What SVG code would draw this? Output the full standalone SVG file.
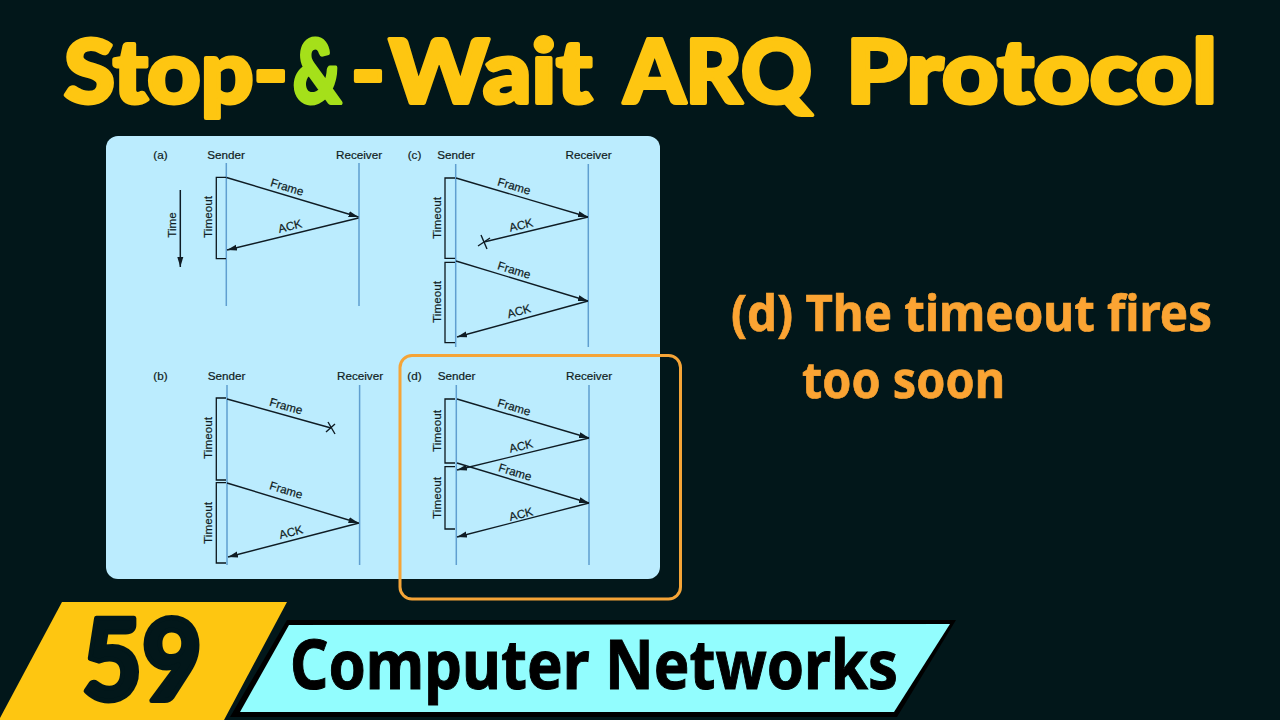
<svg xmlns="http://www.w3.org/2000/svg" width="1280" height="720" viewBox="0 0 1280 720">
<style>
.t{font-family:"Liberation Sans",Arial,sans-serif;font-size:11.700px;fill:#101c22;stroke:#101c22;stroke-width:.2;text-anchor:middle}
.life{stroke:#5f9fd0;stroke-width:1.500;fill:none}
.br{stroke:#0c171d;stroke-width:1.300;fill:none}
.ar{stroke:#0f1c24;stroke-width:1.400;fill:none;marker-end:url(#h)}
.ln{stroke:#0f1c24;stroke-width:1.400;fill:none}
.h{font-family:"Noto Sans","Open Sans",sans-serif;font-weight:700;font-size:50px;fill:#fba433;stroke:#fba433;stroke-width:.7}
.title{font-family:Lato,"Noto Sans",sans-serif;font-weight:900;font-size:88px;fill:#fec611;stroke:#fec611;stroke-width:4;stroke-linejoin:round}
</style>
<defs>
<marker id="h" markerUnits="userSpaceOnUse" markerWidth="12" markerHeight="8" refX="10" refY="4" orient="auto"><path d="M0 1 L10 4 L0 7 Z" fill="#0f1c24"/></marker>
</defs>
<rect width="1280" height="720" fill="#02171a"/>
<g id="title">
<text class="title" x="64" y="103" textLength="224" lengthAdjust="spacingAndGlyphs">Stop-</text>
<text class="title" transform="translate(293 103) scale(.75 1)" style="fill:#a5e01a;stroke:#a5e01a">&amp;</text>
<text class="title" x="351" y="103" textLength="34" lengthAdjust="spacingAndGlyphs">-</text>
<text class="title" x="389" y="103" textLength="203" lengthAdjust="spacingAndGlyphs">Wait</text>
<text class="title" x="624" y="103" textLength="188" lengthAdjust="spacingAndGlyphs">ARQ</text>
<text class="title" x="846" y="103" textLength="371" lengthAdjust="spacingAndGlyphs">Protocol</text>
</g>
<g id="panel"><rect x="106" y="136" width="554" height="443" rx="12" fill="#bbecfe"/></g>
<g id="lifelines">
<path class="life" d="M226.300 163V306M359 163V306M455.700 164V347M588.300 164V347M456.300 385V565M589 385V565M227 385V565M359.600 385V565"/>
</g>
<g id="connectors">
<path class="br" d="M226 177.300H216.300V258.700H226M226 398H216.300V480H226M226 482.700H216.300V563H226M455 178H445V258.300H455M455 262.300H445V342.700H455M455 399H445V463H455M455 466.700H445V529H455"/>
<path class="ar" d="M226.500 177.500L358.500 217"/>
<path class="ar" d="M358.500 218L227 250"/>
<path class="ar" style="stroke-width:1.500" d="M180.300 190V267"/>
<path class="ln" d="M227 399L331 428"/>
<path class="ar" d="M227 483L358.500 523"/>
<path class="ar" d="M359 523L228 557"/>
<path class="ar" d="M456 178L588 217"/>
<path class="ln" d="M588 217L484 242"/>
<path class="ar" d="M456 261L588 301"/>
<path class="ar" d="M588 301L457 337"/>
<path class="ar" d="M457 399L589 438"/>
<path class="ar" d="M589 438L457 470"/>
<path class="ar" d="M457 463L589 503"/>
<path class="ar" d="M589 503L457 537"/>
<path class="ln" d="M326 432L335 424M328 422L335 434M478 246L490 238M481 235L487 249"/>
</g>
<g id="diagram-a">
<text class="t" x="160.500" y="159">(a)</text><text class="t" x="226" y="159">Sender</text><text class="t" x="359" y="159">Receiver</text>
<text class="t" transform="translate(176 225) rotate(-90)">Time</text>
<text class="t" transform="translate(212 217) rotate(-90)">Timeout</text>
<text class="t" transform="translate(286 191) rotate(16.800)">Frame</text>
<text class="t" transform="translate(291 230) rotate(-14)">ACK</text>
</g>
<g id="diagram-b">
<text class="t" x="160.500" y="380">(b)</text><text class="t" x="226.500" y="380">Sender</text><text class="t" x="360" y="380">Receiver</text>
<text class="t" transform="translate(212 438) rotate(-90)">Timeout</text>
<text class="t" transform="translate(212 523) rotate(-90)">Timeout</text>
<text class="t" transform="translate(285 410) rotate(15.600)">Frame</text>
<text class="t" transform="translate(285 494) rotate(16.800)">Frame</text>
<text class="t" transform="translate(292 536) rotate(-14.500)">ACK</text>
</g>
<g id="diagram-c">
<text class="t" x="414.500" y="159">(c)</text><text class="t" x="456" y="159">Sender</text><text class="t" x="588.500" y="159">Receiver</text>
<text class="t" transform="translate(441 218) rotate(-90)">Timeout</text>
<text class="t" transform="translate(441 302) rotate(-90)">Timeout</text>
<text class="t" transform="translate(513 190) rotate(16.500)">Frame</text>
<text class="t" transform="translate(522 229) rotate(-13.500)">ACK</text>
<text class="t" transform="translate(513 274) rotate(16.800)">Frame</text>
<text class="t" transform="translate(520 315) rotate(-15.300)">ACK</text>
</g>
<g id="diagram-d">
<text class="t" x="414.500" y="380">(d)</text><text class="t" x="456.500" y="380">Sender</text><text class="t" x="589" y="380">Receiver</text>
<text class="t" transform="translate(441 431) rotate(-90)">Timeout</text>
<text class="t" transform="translate(441 498) rotate(-90)">Timeout</text>
<text class="t" transform="translate(513 411) rotate(16.500)">Frame</text>
<text class="t" transform="translate(522 450) rotate(-13.600)">ACK</text>
<text class="t" transform="translate(514 476) rotate(16.800)">Frame</text>
<text class="t" transform="translate(522 518) rotate(-14.400)">ACK</text>
</g>
<g id="highlight"><rect x="400" y="355.500" width="280.500" height="243.500" rx="12" fill="none" stroke="#f5a437" stroke-width="3"/></g>
<g id="caption">
<text class="h" x="731" y="331" textLength="481" lengthAdjust="spacingAndGlyphs">(d) The timeout fires</text>
<text class="h" x="802" y="398" textLength="203" lengthAdjust="spacingAndGlyphs">too soon</text>
</g>
<g id="number"><polygon points="62,602 287,602 224,720 0,720 0,718" fill="#fec611"/>
<text x="82" y="700" textLength="120" lengthAdjust="spacingAndGlyphs" style="font-family:Lato,'Noto Sans',sans-serif;font-weight:900;font-size:112px;fill:#02171a;stroke:#02171a;stroke-width:5;stroke-linejoin:round">59</text></g>
<g id="series"><polygon points="287,620 956,620 897,717 230,717" fill="#000"/><polygon points="289,625 950,624 894,712 240,712" fill="#92fdfe"/>
<text x="290" y="689" textLength="608" lengthAdjust="spacingAndGlyphs" style="font-family:'Noto Sans',sans-serif;font-weight:700;font-size:68px;fill:#000;stroke:#000;stroke-width:1">Computer Networks</text></g>
</svg>
